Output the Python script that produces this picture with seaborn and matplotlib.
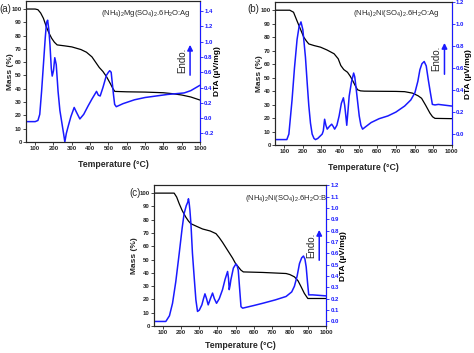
import numpy as np
import pandas as pd
import matplotlib.pyplot as plt
import seaborn as sns
from matplotlib import font_manager

sns.set_style("ticks")
names = {f.name for f in font_manager.fontManager.ttflist}
narrow = 'Liberation Sans Narrow' if 'Liberation Sans Narrow' in names else 'Liberation Sans'
plt.rcParams['font.family'] = [narrow, 'DejaVu Sans']
plt.rcParams['mathtext.fontset'] = 'custom'
plt.rcParams['mathtext.rm'] = narrow
plt.rcParams['mathtext.it'] = narrow
plt.rcParams['mathtext.bf'] = narrow + ':bold'

# ---- panel (a): (NH4)2Mg(SO4)2.6H2O:Ag
mass_a_T = [50, 100, 115, 130, 145, 160, 175, 190, 205, 220, 260, 300, 350, 380, 410, 430, 450, 470,
            490, 510, 525, 535, 600, 700, 800, 850, 900, 950, 1000]
mass_a = [100, 100, 99.5, 97, 93, 87, 82, 78, 75, 73, 72.3, 71.5, 69.5, 67.5, 64, 60, 56, 53,
          49, 44, 40, 38, 37.7, 37.5, 37, 36.3, 35.3, 33.8, 31.5]
dta_a_T = [50, 100, 115, 125, 135, 145, 155, 162, 168, 175, 181, 188, 193, 200, 207, 215, 225, 235,
           245, 255, 262, 270, 281, 295, 313, 325, 344, 365, 389, 410, 435, 445, 455, 470, 489, 500,
           507, 515, 521, 528, 534, 543, 580, 642, 700, 823, 870, 914, 950, 1000]
dta_a = [-0.045, -0.045, -0.03, 0.05, 0.35, 0.70, 1.05, 1.25, 1.28, 1.15, 0.95, 0.65, 0.55, 0.62,
         0.79, 0.70, 0.35, 0.10, -0.05, -0.2, -0.31, -0.2, -0.1, 0.02, 0.14, 0.08, -0.01, 0.05,
         0.16, 0.25, 0.35, 0.3, 0.29, 0.40, 0.56, 0.60, 0.62, 0.60, 0.46, 0.30, 0.18, 0.15, 0.19,
         0.24, 0.27, 0.31, 0.32, 0.33, 0.36, 0.43]

# ---- panel (b): (NH4)2Ni(SO4)2.6H2O:Ag
mass_b_T = [50, 130, 150, 169, 190, 205, 220, 232, 260, 295, 330, 368, 390, 404, 420, 440, 455, 467,
            480, 494, 510, 530, 600, 700, 747, 790, 820, 838, 860, 883, 897, 910, 1000]
mass_b = [100, 100, 98.5, 92, 85, 80, 77, 75, 73.8, 72.6, 70.5, 67.7, 64, 59, 56, 54, 51, 48,
          44.5, 41, 40.2, 40, 39.9, 39.8, 39.6, 38.5, 36.5, 34.7, 29.5, 23.7, 21, 19.8, 19.6]
dta_b_T = [50, 114, 125, 142, 155, 169, 180, 190, 200, 214, 224, 232, 241, 250, 260, 268, 280, 295,
           304, 310, 317, 324, 331, 343, 355, 363, 371, 383, 395, 407, 418, 425, 431, 436, 442, 449,
           461, 473, 479, 485, 494, 503, 512, 521, 540, 567, 610, 657, 700, 747, 780, 802, 818, 829,
           840, 852, 863, 874, 885, 896, 910, 928, 1000]
dta_b = [-0.05, -0.05, 0.0, 0.31, 0.6, 0.86, 0.98, 1.02, 0.95, 0.70, 0.45, 0.26, 0.1, 0.0, -0.04,
         -0.05, -0.04, -0.015, 0.0, 0.03, 0.135, 0.08, 0.045, 0.07, 0.09, 0.07, 0.045, 0.08, 0.165,
         0.28, 0.33, 0.26, 0.165, 0.08, 0.2, 0.345, 0.47, 0.555, 0.52, 0.435, 0.3, 0.165, 0.08,
         0.045, 0.07, 0.105, 0.14, 0.165, 0.2, 0.255, 0.31, 0.375, 0.48, 0.585, 0.64, 0.66, 0.62,
         0.495, 0.38, 0.27, 0.265, 0.27, 0.255]

# ---- panel (c): (NH4)2Ni(SO4)2.6H2O:B
mass_c_T = [50, 161, 175, 189, 205, 225, 240, 253, 285, 318, 360, 392, 410, 428, 442, 456, 470, 484,
            500, 515, 530, 543, 650, 779, 800, 825, 845, 862, 880, 899, 1000]
mass_c = [100, 100, 97, 92, 87, 82, 79, 77, 75, 73, 71.5, 69.5, 66.5, 63, 60, 57, 54, 51, 47,
          44.5, 42, 40.7, 40.3, 39.5, 38.7, 37, 34, 29.5, 24.5, 20.7, 20.7]
dta_c_T = [50, 115, 135, 152, 170, 189, 205, 216, 228, 236, 240, 244, 248, 254, 262, 272, 281, 290,
           300, 314, 323, 331, 340, 349, 361, 373, 383, 395, 410, 428, 442, 456, 461, 465, 470, 474,
           488, 502, 509, 515, 522, 530, 539, 600, 650, 720, 779, 810, 825, 840, 853, 865, 875, 883,
           890, 897, 904, 926, 1000]
dta_c = [0.0, 0.0, 0.05, 0.16, 0.35, 0.6, 0.82, 0.95, 1.02, 1.05, 1.08, 1.04, 0.98, 0.85, 0.6, 0.38,
         0.19, 0.088, 0.1, 0.146, 0.2, 0.243, 0.2, 0.146, 0.2, 0.25, 0.2, 0.16, 0.2, 0.28, 0.37,
         0.44, 0.38, 0.28, 0.32, 0.365, 0.47, 0.506, 0.49, 0.45, 0.3, 0.13, 0.117, 0.14, 0.16,
         0.19, 0.22, 0.26, 0.31, 0.4, 0.51, 0.56, 0.576, 0.55, 0.48, 0.35, 0.234, 0.234, 0.225]

x_ticks = list(range(100, 1001, 100))
mass_ticks = list(range(0, 101, 10))
blue = '#1a1aff'

fig = plt.figure(figsize=(4.74, 3.53), dpi=100)


def panel(rect, tag, tag_xy, formula, form_xy, mT, m, dT, d, dta_lim, dta_ticks,
          arrow_x, arrow_y0, arrow_y1, mass_lx, dta_lx, temp_ly):
    ax = fig.add_axes(rect)
    sns.lineplot(x=mT, y=m, ax=ax, color='black', linewidth=0.9)
    ax.set_xlim(50, 1000)
    ax.set_ylim(0, 106)
    ax.set_xticks(x_ticks)
    ax.set_yticks(mass_ticks)
    ax.tick_params(labelsize=4.3, length=2, width=0.6, pad=1)
    for lab in ax.get_xticklabels() + ax.get_yticklabels():
        lab.set_fontweight('bold')
    ax.set_xlabel('Temperature (°C)', fontsize=6.3, fontweight='bold')
    ax.set_ylabel('Mass (%)', fontsize=6, fontweight='bold')
    ax.xaxis.set_label_coords(0.5, temp_ly)
    ax.yaxis.set_label_coords(mass_lx, 0.5)
    for s in ax.spines.values():
        s.set_linewidth(0.8)

    ax2 = ax.twinx()
    sns.lineplot(x=dT, y=d, ax=ax2, color=blue, linewidth=1.1)
    ax2.set_ylim(*dta_lim)
    ax2.set_yticks(dta_ticks)
    ax2.set_yticklabels([f'{t:.1f}' for t in dta_ticks], fontweight='bold')
    ax2.tick_params(labelsize=4.3, length=2, width=0.6, pad=1, colors=blue)
    ax2.spines['right'].set_color(blue)
    ax2.spines['right'].set_linewidth(0.8)
    ax2.set_ylabel('DTA (µV/mg)', fontsize=6, fontweight='bold', color='black')
    ax2.yaxis.set_label_coords(dta_lx, 0.5)

    fig.text(tag_xy[0], tag_xy[1], tag, fontsize=7, ha='left', va='center',
             family=['Liberation Sans', 'DejaVu Sans'])
    ax.text(form_xy[0], form_xy[1], formula, transform=ax.transAxes, fontsize=5.5,
            ha='center', va='center')
    ax2.annotate('', xy=(arrow_x, arrow_y1), xytext=(arrow_x, arrow_y0), xycoords='axes fraction',
                 arrowprops=dict(arrowstyle='-|>', color=blue, lw=1.1, mutation_scale=8))
    ax2.text(arrow_x - 0.045, (arrow_y0 + arrow_y1) / 2, 'Endo.', transform=ax2.transAxes,
             rotation=90, fontsize=7, ha='center', va='center',
             family=['Liberation Sans', 'DejaVu Sans'])


panel([0.0549, 0.598, 0.367, 0.399], '(a)', (-0.002, 0.975), r'(NH$_4$)$_2$Mg(SO$_4$)$_2$.6H$_2$O:Ag', (0.69, 0.915),
      mass_a_T, mass_a, dta_a_T, dta_a, (-0.31, 1.53), [-0.2, 0.0, 0.2, 0.4, 0.6, 0.8, 1.0, 1.2, 1.4],
      0.943, 0.454, 0.709, -0.069, 1.083, -0.13)
panel([0.580, 0.589, 0.373, 0.405], '(b)', (0.521, 0.975), r'(NH$_4$)$_2$Ni(SO$_4$)$_2$.6H$_2$O:Ag', (0.684, 0.923),
      mass_b_T, mass_b, dta_b_T, dta_b, (-0.1, 1.2), [0.0, 0.2, 0.4, 0.6, 0.8, 1.0, 1.2],
      0.959, 0.476, 0.734, -0.068, 1.076, -0.126)
panel([0.325, 0.0765, 0.363, 0.399], '(c)', (0.273, 0.453), r'(NH$_4$)$_2$Ni(SO$_4$)$_2$.6H$_2$O:B', (0.765, 0.908),
      mass_c_T, mass_c, dta_c_T, dta_c, (-0.04, 1.2), [round(0.1 * i, 1) for i in range(13)],
      0.96, 0.447, 0.702, -0.093, 1.078, -0.106)

plt.savefig('out.png', dpi=100)
